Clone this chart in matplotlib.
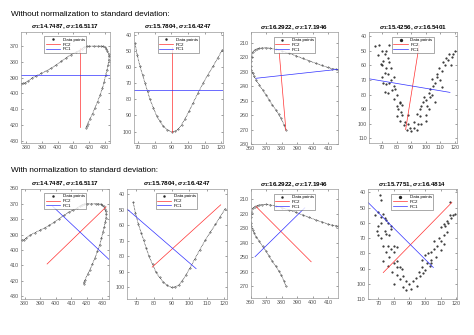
import numpy as np
import matplotlib
matplotlib.use('Agg')
import matplotlib.pyplot as plt

plt.rcParams['font.family'] = ['Liberation Sans', 'DejaVu Sans']
plt.rcParams['mathtext.fontset'] = 'custom'
plt.rcParams['mathtext.it'] = 'Liberation Sans:italic:bold'
plt.rcParams['mathtext.rm'] = 'Liberation Sans:bold'

# curve data (same for both rows)
c1_x = [376.7, 378, 379.5, 381, 383.4, 386.5, 389.7, 393, 395.9, 399, 402.2, 405.5, 408.5, 411.5,
        413.8, 415.5, 417, 418.5, 420, 423, 426, 427.4, 429, 430, 431, 431.7, 432.4, 432.7, 432.6,
        432.1, 431.4, 430.6, 429.6, 428.5, 427, 425.4, 423.8, 422.2, 420.6, 419.1, 418.5, 418]
c1_y = [393.8, 393.6, 393.3, 392.3, 390.4, 388.8, 387.2, 385.6, 384, 382, 379.7, 377.4, 375.4, 373.9,
        372.8, 371.6, 370.6, 370.2, 370, 370, 370, 370, 370.2, 370.6, 371.6, 373.2, 374.8, 376.4, 379,
        381.8, 385, 388.2, 392.5, 396.8, 401, 405.3, 409, 412.9, 416, 419.3, 420.7, 422]

c2_x = [68.2, 69.5, 71.2, 72.7, 74.2, 75.7, 77.2, 79.2, 81.2, 83.2, 85.1, 87.5, 90.1, 92.2, 94.1,
        96.1, 98.1, 100.6, 103.1, 106.1, 109.1, 112, 115, 117.8, 120.6]
c2_y = [45.3, 52.5, 59.6, 64.8, 69.9, 75, 80.1, 85.2, 90.3, 93.6, 96.5, 98.8, 100.1, 99.7, 98.5,
        95.8, 92.3, 87.4, 82.1, 75.9, 69.9, 64.7, 59.6, 54.5, 49.4]

c3_x = [382.7, 381.6, 379.5, 378, 376.3, 374, 372, 370, 367.7, 365.5, 363.4, 362.2, 361.3, 360.5,
        360.2, 360.2, 360.6, 361.3, 362.5, 363.8, 365.5, 367.5, 369.9, 372.5, 376.3, 380.5, 384.9,
        389.2, 393.5, 397.8, 402, 405.8, 409.6, 412.3, 414.9, 416.5]
c3_y = [270.2, 266.7, 262.1, 259.3, 256.4, 253, 249.5, 246, 242.6, 239, 235.7, 233.2, 231.1, 228.5,
        226, 222.5, 219.5, 216.2, 215, 214.3, 213.9, 213.6, 213.5, 213.8, 214.6, 215.9, 217.3,
        219, 220.8, 222.5, 224.2, 225.6, 227, 227.8, 228.3, 228.5]

# scatter data
s1_x = [65, 68, 70, 72, 73, 74, 71, 70, 73, 75, 76, 72, 74, 70, 71, 73, 75, 76, 78, 77, 72, 74, 79,
        80, 78, 82, 80, 82, 81, 83, 80, 84, 82, 86, 85, 88, 87, 89, 90, 92, 94, 92, 95, 96, 94, 96,
        97, 98, 99, 100, 101, 100, 102, 103, 102, 104, 103, 105, 106, 108, 104, 110, 108, 109, 111,
        112, 113, 114, 115, 116, 118, 119, 117, 120, 111, 106, 100, 97, 88, 84, 78, 67, 69, 75]
s1_y = [47, 46, 50, 52, 50, 55, 57, 60, 62, 58, 62, 65, 66, 68, 72, 73, 72, 70, 74, 77, 78, 79, 76,
        80, 83, 85, 88, 86, 90, 92, 95, 94, 98, 99, 101, 100, 104, 103, 105, 103, 104, 99, 100, 95,
        93, 90, 88, 85, 82, 84, 88, 94, 90, 82, 79, 80, 76, 74, 72, 68, 69, 70, 66, 62, 64, 58, 60,
        55, 56, 52, 54, 52, 60, 50, 75, 85, 98, 100, 94, 87, 68, 53, 59, 46]

s2_x = [71, 72, 68, 70, 72, 73, 74, 75, 76, 72, 70, 69, 70, 74, 75, 77, 78, 78, 72, 73, 76, 78, 75,
        80, 82, 80, 77, 73, 76, 80, 82, 82, 84, 85, 79, 82, 80, 84, 86, 88, 86, 88, 90, 91, 92, 95,
        94, 96, 97, 99, 98, 100, 101, 103, 104, 102, 104, 106, 108, 106, 109, 110, 112, 112, 114,
        110, 112, 114, 115, 117, 116, 118, 119, 116, 113, 104, 100, 98, 107, 110]
s2_y = [42, 45, 55, 53, 56, 54, 57, 58, 60, 60, 62, 65, 68, 65, 67, 68, 62, 64, 70, 75, 75, 77, 79,
        75, 76, 79, 82, 85, 88, 86, 85, 89, 89, 90, 92, 94, 100, 97, 95, 98, 102, 104, 100, 103, 98,
        101, 96, 92, 95, 93, 89, 91, 86, 88, 84, 80, 79, 77, 75, 72, 70, 72, 74, 68, 66, 63, 61, 59,
        60, 57, 55, 55, 54, 46, 62, 86, 81, 84, 82, 78]

titles = [r'$\sigma_1$:14.7487, $\sigma_2$:16.5117', r'$\sigma_1$:15.7804, $\sigma_2$:16.4247',
          r'$\sigma_1$:16.2922, $\sigma_2$:17.1946', r'$\sigma_1$:15.4256, $\sigma_2$:16.5401',
          r'$\sigma_1$:14.7487, $\sigma_2$:16.5117', r'$\sigma_1$:15.7804, $\sigma_2$:16.4247',
          r'$\sigma_1$:16.2922, $\sigma_2$:17.1946', r'$\sigma_1$:15.7751, $\sigma_2$:16.4814']

# principal component segments: (pc2_x, pc2_y, pc1_x, pc1_y)
pcs = [
    ([414.5, 414.5], [371, 421.5], [376.7, 433], [388.2, 388.2]),
    ([90.6, 90.6], [47.5, 100], [67.6, 120.8], [74.5, 74.5]),
    ([378.4, 382.7], [216.9, 270.2], [363.4, 416.5], [234.5, 228.3]),
    ([86.2, 95.5], [104, 46], [61.3, 116.6], [69.2, 78.5]),
    ([394.4, 432.6], [409.2, 372], [398, 434.7], [371.6, 406.4]),
    ([79, 118], [87, 47], [64, 104], [49, 88]),
    ([363.5, 399], [215, 253.2], [362.8, 394.9], [249.7, 215.8]),
    ([73.2, 117.3], [92.5, 46.6], [63.2, 105.4], [46.4, 89.2]),
]

W, H = 474, 335
# axes boxes in pixels: left, right, top, bottom
boxes = [(21, 109.5, 32, 143), (134, 222.7, 32, 143), (250.7, 338.3, 32.3, 144.3), (369.3, 456.7, 32.3, 143.3),
         (21, 109.3, 188.5, 299), (126.7, 226.5, 188.5, 299), (250.7, 338.3, 189.3, 298.3), (367.7, 456.7, 189.3, 299.3)]
xlims = [(376.7, 433), (67.6, 120.8), (360, 416.5), (61.3, 121.2),
         (377.5, 434.7), (64.5, 121.3), (360, 416.5), (63.2, 120.4)]
ylims = [(431.5, 361), (107, 38.4), (280, 202.8), (113.4, 37.3),
         (432, 360), (107.5, 36.5), (278.5, 203), (110, 38)]
xticks = [range(380, 431, 10), range(70, 121, 10), range(360, 411, 10), range(70, 121, 10)] * 2
yticks = [range(370, 431, 10), range(40, 101, 10), range(210, 281, 10), range(40, 111, 10),
          range(360, 431, 10), range(40, 101, 10), range(210, 271, 10), range(40, 111, 10)]
curves = [(c1_x, c1_y), (c2_x, c2_y), (c3_x, c3_y), None] * 2
scatters = [None, None, None, (s1_x, s1_y), None, None, None, (s2_x, s2_y)]

fig = plt.figure(figsize=(W / 100, H / 100), dpi=100)

for i in range(8):
    l, r, t, b = boxes[i]
    ax = fig.add_axes([l / W, 1 - b / H, (r - l) / W, (b - t) / H])
    if curves[i] is not None:
        cx, cy = curves[i]
        ax.plot(cx, cy, color='#333333', ls=(0, (1.0, 0.9)), lw=0.55)
        ax.plot(cx, cy, '.', color='#222222', ms=0.6, label='Data points')
    else:
        sx, sy = scatters[i]
        ax.plot(sx, sy, '.', color='#222222', ms=1.1, label='Data points')
    p2x, p2y, p1x, p1y = pcs[i]
    ax.plot(p2x, p2y, color='#ff3030', lw=0.5, label='PC2')
    ax.plot(p1x, p1y, color='#3030ff', lw=0.5, label='PC1')
    ax.set_xlim(*xlims[i])
    ax.set_ylim(*ylims[i])
    ax.set_xticks(list(xticks[i]))
    ax.set_yticks(list(yticks[i]))
    ax.tick_params(direction='in', length=1.5, width=0.4, labelsize=3.9, colors='#555555',
                   top=True, right=True, pad=1.5)
    for sp in ax.spines.values():
        sp.set_color('#999999')
        sp.set_linewidth(0.5)
    ax.set_title(titles[i], fontsize=4.5, fontweight='bold', pad=2.5)
    leg = ax.legend(loc='upper center', fontsize=3.2, fancybox=False, edgecolor='#444444',
                    borderpad=0.3, handlelength=3.2, labelspacing=0.15, handletextpad=0.6,
                    borderaxespad=1.0, markerscale=2.5)
    leg.get_frame().set_linewidth(0.4)

fig.text(11 / W, 1 - 14.5 / H, 'Without normalization to standard deviation:', fontsize=5.9,
         va='center', ha='left')
fig.text(11 / W, 1 - 170 / H, 'With normalization to standard deviation:', fontsize=5.9,
         va='center', ha='left')

fig.savefig('out.png', dpi=100)
